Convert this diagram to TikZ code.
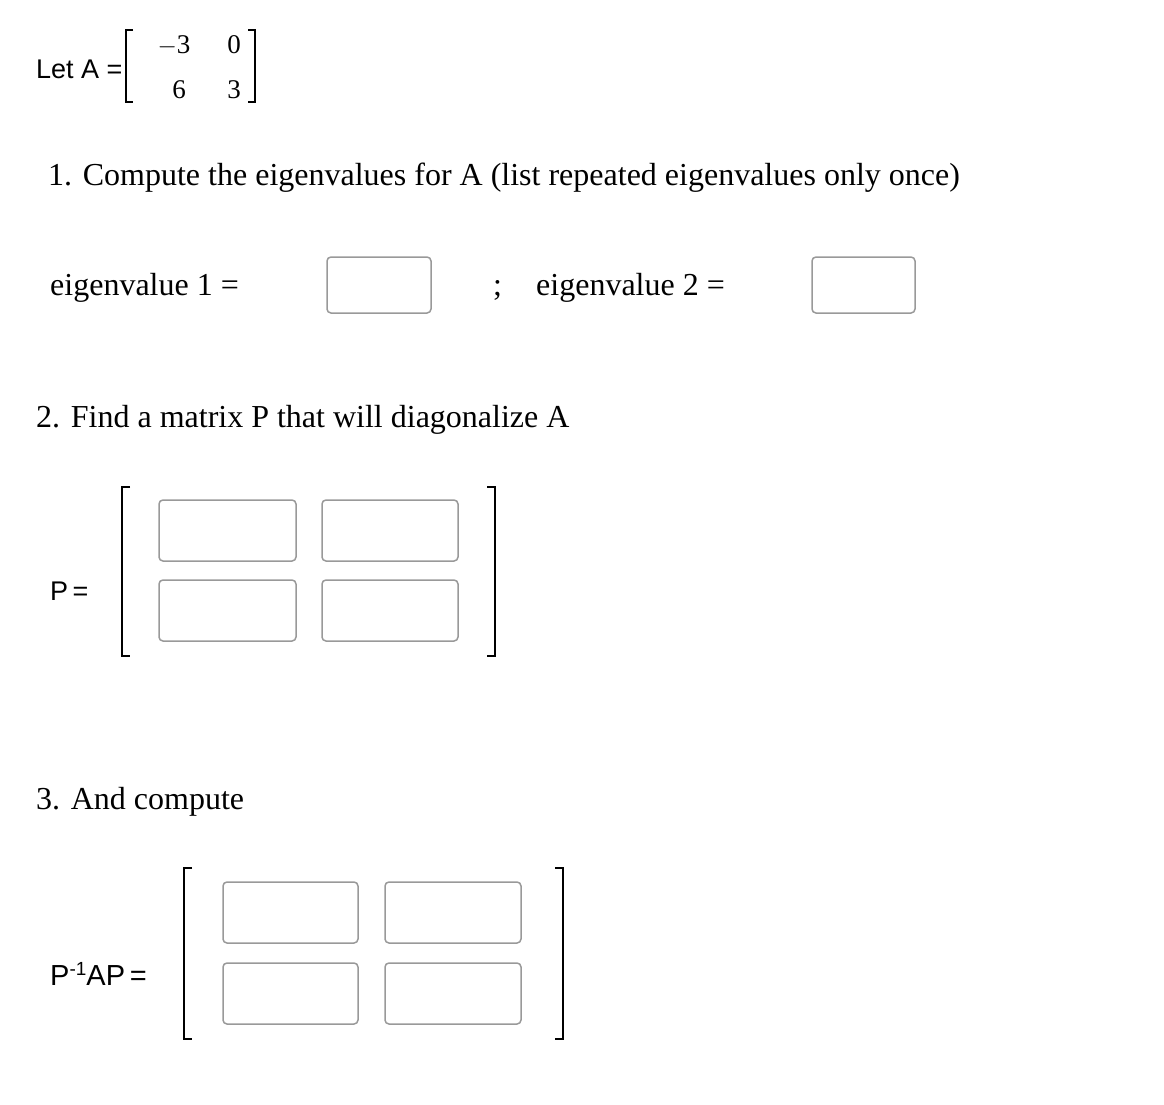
\documentclass[tikz,border=0pt]{standalone}
\usepackage{fontspec}
\setmainfont{Liberation Serif}
\newfontfamily\sansf{Liberation Sans}
\begin{document}
\begin{tikzpicture}[x=1pt,y=-1pt,
  txt/.style={anchor=base west,inner sep=0pt,font=\fontsize{32}{36}\selectfont},
  stxt/.style={anchor=base west,inner sep=0pt,font=\sansf\fontsize{27}{32}\selectfont},
  ent/.style={anchor=base,inner sep=0pt,font=\fontsize{27}{30}\selectfont},
  ibox/.style={draw=black!40,line width=1.5pt,rounded corners=4pt},
  brk/.style={line width=1.2pt}]
\path[use as bounding box] (0,0) rectangle (1164,1104);
\node[stxt] (leta) at (36,78) {Let A =};
\draw[brk] (133,30) -- (126,30) -- (126,102) -- (133,102);
\draw[brk] (248,30) -- (255,30) -- (255,102) -- (248,102);
\node[ent] (a11) at (174,53) {$-$3};
\node[ent] (a12) at (234,53) {0};
\node[ent] (a21) at (179,98) {6};
\node[ent] (a22) at (234,98) {3};
\node[txt] (q1) at (48,185) {1. Compute the eigenvalues for A (list repeated eigenvalues only once)};
\node[txt] (e1) at (50,295) {eigenvalue 1 =};
\draw[ibox] (327,257) rectangle (431,313);
\node[txt] (sc) at (493,295) {;};
\node[txt] (e2) at (536,295) {eigenvalue 2 =};
\draw[ibox] (812,257) rectangle (915,313);
\node[txt] (q2) at (36,427) {2. Find a matrix P that will diagonalize A};
\node[stxt] (p) at (50,600) {P\,=};
\draw[brk] (130,487) -- (122,487) -- (122,656) -- (130,656);
\draw[brk] (487,487) -- (495,487) -- (495,656) -- (487,656);
\draw[ibox] (159,500) rectangle (296,561);
\draw[ibox] (322,500) rectangle (458,561);
\draw[ibox] (159,580) rectangle (296,641);
\draw[ibox] (322,580) rectangle (458,641);
\node[txt] (q3) at (36,809) {3. And compute};
\node[stxt,font=\sansf\fontsize{29}{32}\selectfont] (pap) at (50,985) {P\raisebox{10pt}{\fontsize{19}{22}\selectfont -1}AP\,=};
\draw[brk] (192,868) -- (184,868) -- (184,1039) -- (192,1039);
\draw[brk] (555,868) -- (563,868) -- (563,1039) -- (555,1039);
\draw[ibox] (223,882) rectangle (358,943);
\draw[ibox] (385,882) rectangle (521,943);
\draw[ibox] (223,963) rectangle (358,1024);
\draw[ibox] (385,963) rectangle (521,1024);
\end{tikzpicture}
\end{document}
